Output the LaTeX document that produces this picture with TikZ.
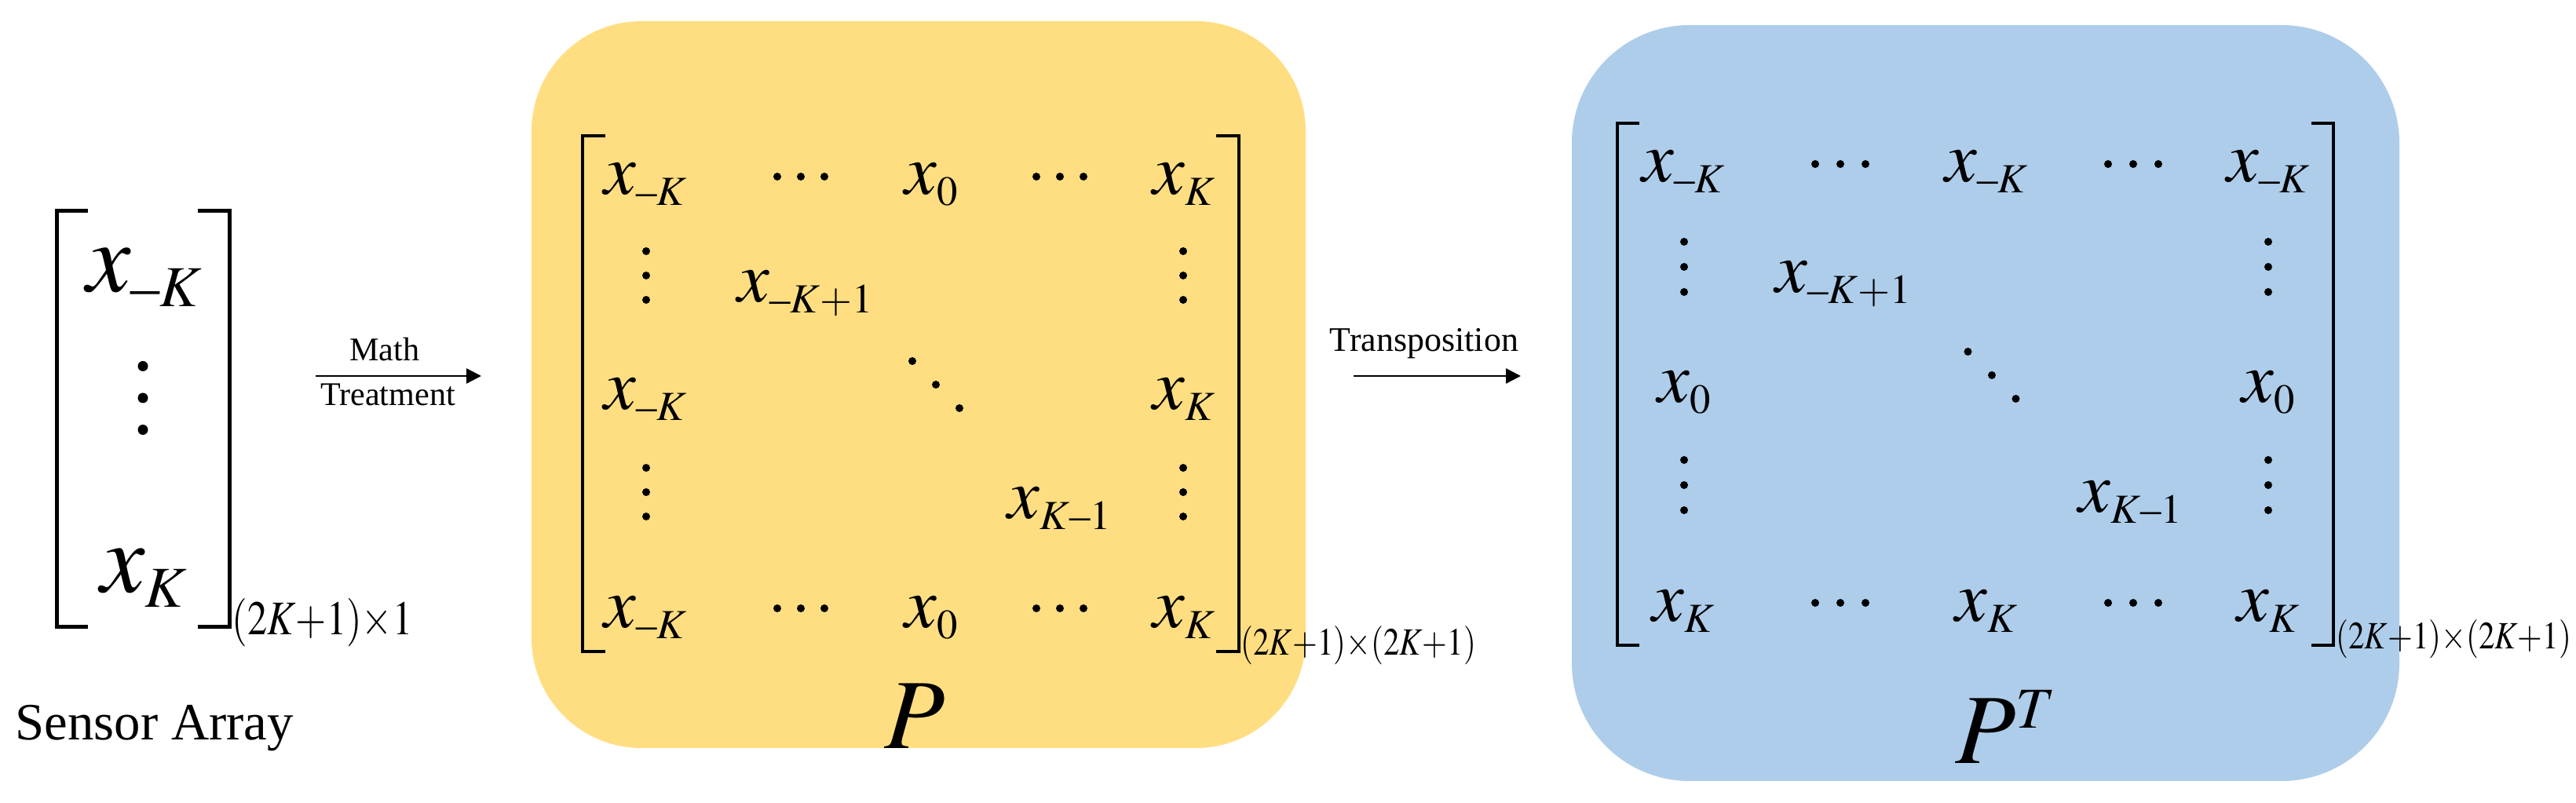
\documentclass[tikz,border=0pt]{standalone}
\usepackage{amsmath}
\usepackage{mathptmx}
\usepackage[no-math]{fontspec}
\setmainfont{Liberation Serif}
\usepackage{tikz}
\usetikzlibrary{arrows.meta}
\definecolor{Warm}{RGB}{255,222,130}
\definecolor{Cool}{RGB}{174,205,234}
\DeclareMathSizes{26}{26}{15}{11}
\DeclareMathSizes{36}{36}{21}{15}
\newcommand{\nm}{\mathord{\text{\textendash}}}
\newcommand{\threedots}[5][0.05]{\foreach \k in {-1,0,1} \fill (#2+\k*#4,#3+\k*#5) circle (#1);}

\begin{document}
\begin{tikzpicture}[
    ent/.style={inner sep=0pt,anchor=base west,font=\fontsize{26}{30}\selectfont},
    vec/.style={inner sep=0pt,anchor=base west,font=\fontsize{36}{40}\selectfont},
    dimlbl/.style={inner sep=0pt,anchor=base west,font=\fontsize{14}{16}\selectfont},
    brk/.style={line width=0.04cm,line join=miter},
    arr/.style={-{Triangle[length=0.19cm,width=0.19cm]},line width=0.027cm}]
  \useasboundingbox (0,0) rectangle (32.81,-10.23);
  % sensor vector
  \draw[brk,line width=0.05cm] (1.12,-2.69) -| (0.72,-7.99) -- ++(0.40,0);
  \draw[brk,line width=0.05cm] (2.52,-2.69) -| (2.92,-7.99) -- ++(-0.40,0);
  \node[vec] (vecTop) at (1.10,-3.72) {$x_{\nm K}$};
  \threedots[0.065]{1.82}{-5.07}{0}{0.405}
  \node[vec] (vecBot) at (1.28,-7.55) {$x_K$};
  \node[inner sep=0pt,anchor=base west,font=\fontsize{17.5}{20}\selectfont] (vecDim) at (2.95,-8.09) {\scalebox{0.82}[1]{$(2K{+}1){\times}1$}};
  \node[inner sep=0pt,anchor=base west,font=\fontsize{19}{22}\selectfont] (sensorLbl) at (0.19,-9.43) {Sensor Array};
  % first arrow
  \coordinate (mathL) at (4.02,-4.79);
  \coordinate (mathR) at (6.13,-4.79);
  \draw[arr] (mathL) -- (mathR);
  \node[inner sep=0pt,anchor=base,font=\fontsize{12}{14}\selectfont] (mathUp) at (4.90,-4.60) {Math};
  \node[inner sep=0pt,anchor=base,font=\fontsize{12}{14}\selectfont] (mathDn) at (4.94,-5.17) {Treatment};
  % matrix P
  \fill[Warm,rounded corners=1.4cm] (6.77,-0.27) rectangle (16.63,-9.53);
  \draw[brk] (7.71,-1.73) -| (7.42,-8.30) -- ++(0.29,0);
  \draw[brk] (15.49,-1.73) -| (15.78,-8.30) -- ++(-0.29,0);
  \node[ent] (p11) at (7.69,-2.48) {$x_{\nm K}$};
  \node[ent] (p13) at (11.52,-2.48) {$x_0$};
  \node[ent] (p15) at (14.68,-2.48) {$x_K$};
  \node[ent] (p22) at (9.39,-3.85) {$x_{\nm K+1}$};
  \node[ent] (p31) at (7.69,-5.22) {$x_{\nm K}$};
  \node[ent] (p35) at (14.68,-5.22) {$x_K$};
  \node[ent] (p44) at (12.83,-6.61) {$x_{K\nm1}$};
  \node[ent] (p51) at (7.69,-8.00) {$x_{\nm K}$};
  \node[ent] (p53) at (11.52,-8.00) {$x_0$};
  \node[ent] (p55) at (14.68,-8.00) {$x_K$};
  \threedots{10.20}{-2.25}{0.30}{0}
  \threedots{13.50}{-2.25}{0.30}{0}
  \threedots{10.20}{-7.75}{0.30}{0}
  \threedots{13.50}{-7.75}{0.30}{0}
  \threedots{8.23}{-3.51}{0}{0.31}
  \threedots{15.07}{-3.51}{0}{0.31}
  \threedots{8.23}{-6.27}{0}{0.31}
  \threedots{15.07}{-6.27}{0}{0.31}
  \threedots{11.92}{-4.90}{0.30}{-0.30}
  \node[dimlbl] (pDim) at (15.80,-8.35) {\scalebox{0.83}[1]{$(2K{+}1){\times}(2K{+}1)$}};
  \node[inner sep=0pt,anchor=base,font=\fontsize{36}{40}\selectfont] (pName) at (11.65,-9.54) {$P$};
  % second arrow
  \coordinate (trL) at (17.24,-4.79);
  \coordinate (trR) at (19.37,-4.79);
  \draw[arr] (trL) -- (trR);
  \node[inner sep=0pt,anchor=base,font=\fontsize{12.5}{14}\selectfont] (trUp) at (18.14,-4.48) {Transposition};
  % matrix P^T
  \fill[Cool,rounded corners=1.5cm] (20.02,-0.32) rectangle (30.56,-9.95);
  \draw[brk] (20.88,-1.57) -| (20.60,-8.22) -- ++(0.28,0);
  \draw[brk] (29.44,-1.57) -| (29.72,-8.22) -- ++(-0.28,0);
  \node[ent] (t11) at (20.91,-2.32) {$x_{\nm K}$};
  \node[ent] (t13) at (24.77,-2.32) {$x_{\nm K}$};
  \node[ent] (t15) at (28.36,-2.32) {$x_{\nm K}$};
  \node[ent] (t22) at (22.61,-3.73) {$x_{\nm K+1}$};
  \node[ent] (t31) at (21.11,-5.13) {$x_0$};
  \node[ent] (t35) at (28.55,-5.13) {$x_0$};
  \node[ent] (t44) at (26.47,-6.53) {$x_{K\nm1}$};
  \node[ent] (t51) at (21.04,-7.92) {$x_K$};
  \node[ent] (t53) at (24.90,-7.92) {$x_K$};
  \node[ent] (t55) at (28.49,-7.92) {$x_K$};
  \threedots{23.44}{-2.09}{0.32}{0}
  \threedots{27.17}{-2.09}{0.32}{0}
  \threedots{23.44}{-7.68}{0.32}{0}
  \threedots{27.17}{-7.68}{0.32}{0}
  \threedots{21.45}{-3.40}{0}{0.32}
  \threedots{28.89}{-3.40}{0}{0.32}
  \threedots{21.45}{-6.18}{0}{0.32}
  \threedots{28.89}{-6.18}{0}{0.32}
  \threedots{25.37}{-4.78}{0.305}{-0.30}
  \node[dimlbl] (tDim) at (29.75,-8.27) {\scalebox{0.83}[1]{$(2K{+}1){\times}(2K{+}1)$}};
  \node[inner sep=0pt,anchor=base,font=\fontsize{36}{40}\selectfont] (tName) at (25.55,-9.73) {$P^T$};
\end{tikzpicture}
\end{document}
